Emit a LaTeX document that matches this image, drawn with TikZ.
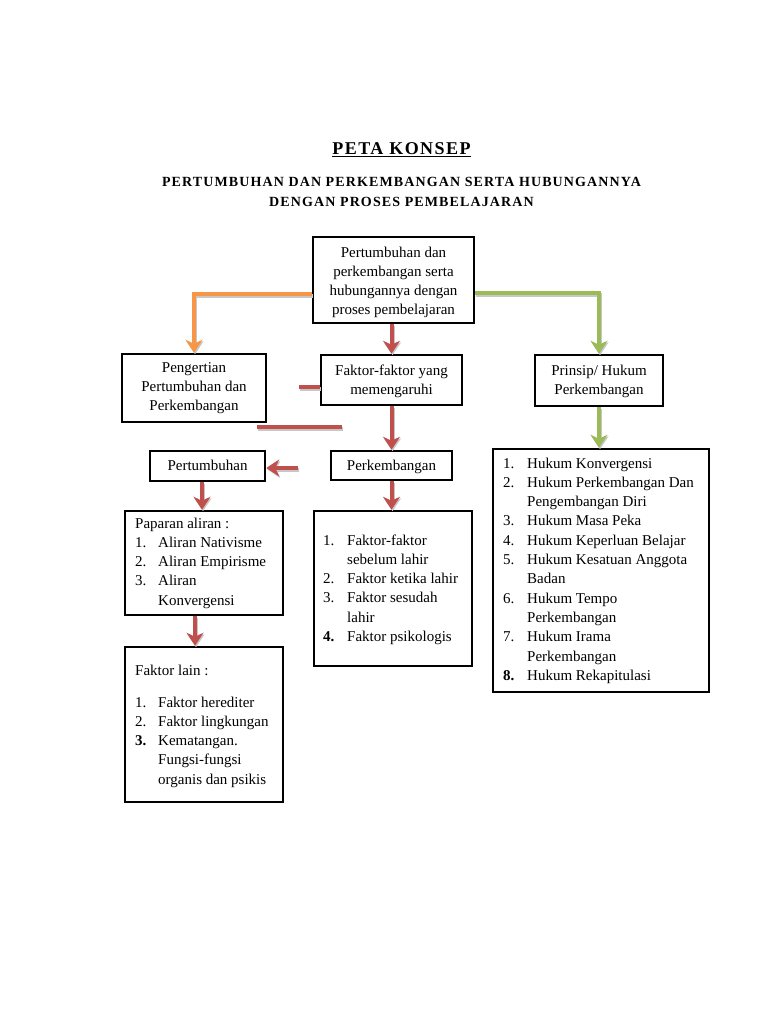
\documentclass[tikz,border=0pt]{standalone}
\usepackage{fontspec}
\setmainfont{Liberation Serif}
\usetikzlibrary{arrows.meta}
\definecolor{cOr}{RGB}{247,150,70}
\definecolor{cGr}{RGB}{155,187,89}
\definecolor{cRd}{RGB}{192,80,77}
\tikzset{
  box/.style={draw=black, line width=2.5pt, inner sep=0pt, fill=white},
  txt/.style={inner sep=0pt, font=\fontsize{15}{19.3}\selectfont},
  shadowed/.style={preaction={draw=black!22, line width=4pt, transform canvas={shift={(1pt,-1.5pt)}}}},
  conn/.style={line width=4pt, shadowed, -{Stealth[length=13pt,width=17pt,inset=4pt]}},
  plainline/.style={line width=4pt, shadowed},
}
\newcommand\bx[5]{\node[box, minimum width={(#4-#2)*1pt}, minimum height={(#5-#3)*1pt}] (#1) at ({(#2+#4)/2},{(#3+#5)/2}) {};}
\begin{document}
\begin{tikzpicture}[x=1pt,y=-1pt]
\useasboundingbox[fill=white] (0,0) rectangle (768,1024);

% titles
\node[inner sep=0pt, anchor=base] (title) at (401.5,155)
  {\fontsize{18}{22}\selectfont\bfseries\addfontfeatures{LetterSpace=8}\underline{PETA KONSEP}};
\node[inner sep=0pt, anchor=base] (subtitle) at (401.5,187)
  {\fontsize{14}{20}\selectfont\bfseries\addfontfeatures{LetterSpace=8}\begin{tabular}[t]{@{}c@{}}PERTUMBUHAN DAN PERKEMBANGAN SERTA HUBUNGANNYA\\DENGAN PROSES PEMBELAJARAN\end{tabular}};

% boxes
\bx{top}{313}{237}{474}{323}
\bx{peng}{122}{354}{266}{422}
\bx{fak}{321}{355}{462}{405}
\bx{prin}{535}{355}{663}{406}
\bx{pert}{150}{451}{265}{481}
\bx{perk}{331}{451}{452}{480}
\bx{pap}{125}{511}{283}{615}
\bx{flist}{314}{511}{472}{666}
\bx{huk}{493}{449}{709}{692}
\bx{lain}{125}{647}{283}{802}

% free ends
\coordinate (orY) at (0,294);
\coordinate (grY) at (0,293);
\coordinate (stubL) at (299,387);
\coordinate (hlA) at (257,427);
\coordinate (hlB) at (342,427);
\coordinate (pa) at (298,468);
\coordinate (pertX) at (202,0);
\coordinate (papX) at (195,0);

% connectors
\draw[conn, draw=cOr] (top.west |- orY) -| (peng.north);
\draw[conn, draw=cGr] (top.east |- grY) -| (prin.north);
\draw[conn, draw=cRd] (top.south -| fak.north) -- (fak.north);
\draw[plainline, draw=cRd] (fak.west |- stubL) -- (stubL);
\draw[plainline, draw=cRd] (hlA) -- (hlB);
\draw[conn, draw=cRd] (fak.south) -- (fak.south |- perk.north);
\draw[conn, draw=cRd] (pa) -- (pert.east |- pa);
\draw[conn, draw=cRd] (pert.south -| pertX) -- (pap.north -| pertX);
\draw[conn, draw=cRd] (perk.south) -- (perk.south |- flist.north);
\draw[conn, draw=cRd] (pap.south -| papX) -- (lain.north -| papX);
\draw[conn, draw=cGr] (prin.south) -- (prin.south |- huk.north);

% texts
\node[txt, anchor=base] (topT) at (393.5,257)
  {\begin{tabular}[t]{@{}c@{}}Pertumbuhan dan\\perkembangan serta\\hubungannya dengan\\proses pembelajaran\end{tabular}};
\node[txt, anchor=base] (pengT) at (194,372)
  {\begin{tabular}[t]{@{}c@{}}Pengertian\\Pertumbuhan dan\\Perkembangan\end{tabular}};
\node[txt, anchor=base] (fakT) at (391.5,375)
  {\begin{tabular}[t]{@{}c@{}}Faktor-faktor yang\\memengaruhi\end{tabular}};
\node[txt, anchor=base] (prinT) at (599,375)
  {\begin{tabular}[t]{@{}c@{}}Prinsip/ Hukum\\Perkembangan\end{tabular}};
\node[txt, anchor=base] (pertT) at (207.5,470) {Pertumbuhan};
\node[txt, anchor=base] (perkT) at (391.5,470) {Perkembangan};

\node[txt, anchor=base west] (papT) at (135,528)
  {\begin{tabular}[t]{@{}p{23pt}@{}l@{}}
  \multicolumn{2}{@{}l@{}}{Paparan aliran :}\\
  1.& Aliran Nativisme\\
  2.& Aliran Empirisme\\
  3.& Aliran\\
    & Konvergensi
  \end{tabular}};
\node[txt, anchor=base west] (flistT) at (323,545)
  {\begin{tabular}[t]{@{}p{24pt}@{}l@{}}
  1.& Faktor-faktor\\
    & sebelum lahir\\
  2.& Faktor ketika lahir\\
  3.& Faktor sesudah\\
    & lahir\\
  \textbf{4.}& Faktor psikologis
  \end{tabular}};
\node[txt, anchor=base west] (hukT) at (503,468)
  {\begin{tabular}[t]{@{}p{24pt}@{}l@{}}
  1.& Hukum Konvergensi\\
  2.& Hukum Perkembangan Dan\\
    & Pengembangan Diri\\
  3.& Hukum Masa Peka\\
  4.& Hukum Keperluan Belajar\\
  5.& Hukum Kesatuan Anggota\\
    & Badan\\
  6.& Hukum Tempo\\
    & Perkembangan\\
  7.& Hukum Irama\\
    & Perkembangan\\
  \textbf{8.}& Hukum Rekapitulasi
  \end{tabular}};
\node[txt, anchor=base west] (lainT) at (135,675)
  {\begin{tabular}[t]{@{}p{23pt}@{}l@{}}
  \multicolumn{2}{@{}l@{}}{Faktor lain :}\\[12.7pt]
  1.& Faktor herediter\\
  2.& Faktor lingkungan\\
  \textbf{3.}& Kematangan.\\
    & Fungsi-fungsi\\
    & organis dan psikis
  \end{tabular}};
\end{tikzpicture}
\end{document}
